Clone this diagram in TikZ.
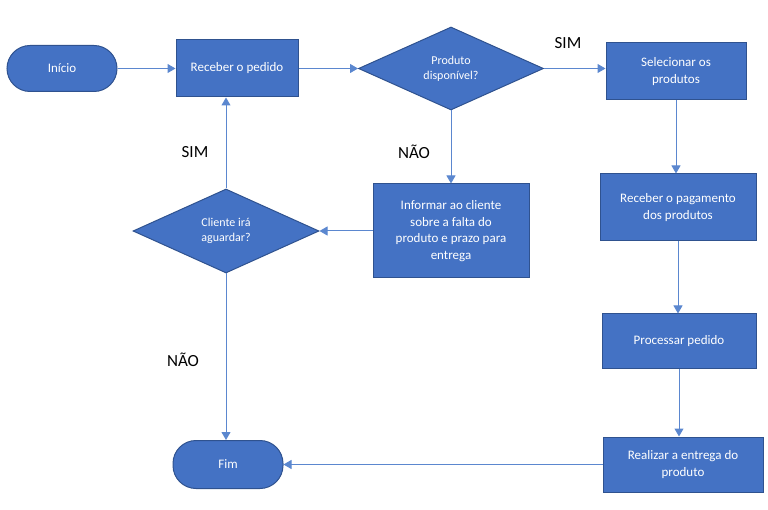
\documentclass[tikz,border=0pt]{standalone}
\usepackage{fontspec}
\setmainfont{Carlito}
\usetikzlibrary{shapes.geometric,arrows.meta}
\definecolor{boxfill}{HTML}{4472C4}
\definecolor{boxline}{HTML}{2F528F}
\definecolor{arrowline}{HTML}{5B87CF}
\begin{document}
\begin{tikzpicture}[x=1pt, y=-1pt,
  proc/.style={draw=boxline, fill=boxfill, line width=1pt, text=white,
    font=\fontsize{13}{16.5}\selectfont, align=center, inner sep=0pt},
  term/.style={proc, rounded corners=23pt},
  decis/.style={proc, diamond, font=\fontsize{12}{15}\selectfont},
  flow/.style={arrowline, line width=1pt, -{Triangle[length=8pt, width=9pt]}},
  answer/.style={font=\fontsize{17}{20}\selectfont}]
  \useasboundingbox (0, 0) rectangle (768, 510);

  % Terminals
  \node[term, minimum width=110pt, minimum height=46pt] (inicio) at (62, 68.5) {Início};
  \node[term, minimum width=110pt, minimum height=48pt] (fim) at (228, 464.5) {Fim};

  % Left column
  \node[proc, minimum width=122pt, minimum height=57pt] (receber) at (237, 68.5) {Receber o pedido};
  \node[decis, minimum width=186pt, minimum height=84pt] (cliente) at (226, 231) {Cliente irá\\aguardar?};

  % Middle column
  \node[decis, minimum width=185pt, minimum height=83pt] (disponivel) at (451, 68.5) {Produto\\disponível?};
  \node[proc, minimum width=156pt, minimum height=94pt] (informar) at (451, 231)
    {Informar ao cliente\\sobre a falta do\\produto e prazo para\\entrega};

  % Right column
  \node[proc, minimum width=140pt, minimum height=57pt] (selecionar) at (676, 71.5) {Selecionar os\\produtos};
  \node[proc, minimum width=156pt, minimum height=67pt] (pagamento) at (678, 207.5) {Receber o pagamento\\dos produtos};
  \node[proc, minimum width=154pt, minimum height=54pt] (processar) at (679, 341) {Processar pedido};
  \node[proc, minimum width=160pt, minimum height=55pt] (entrega) at (683, 464.5) {Realizar a entrega do\\produto};

  % Answer labels
  \node[answer] (sim1) at (568, 43) {SIM};
  \node[answer] (nao1) at (414, 152) {NÃO};
  \node[answer] (sim2) at (195, 152) {SIM};
  \node[answer] (nao2) at (183, 360) {NÃO};

  % Connectors
  \draw[flow] (inicio) -- (receber);
  \draw[flow] (receber) -- (disponivel);
  \draw[flow] (disponivel.east) -- (selecionar.west |- disponivel.east);
  \draw[flow] (disponivel.south) -- (informar.north);
  \draw[flow] (informar.west) -- (cliente.east);
  \draw[flow] (cliente.north) -- (cliente.north |- receber.south);
  \draw[flow] (cliente.south) -- (cliente.south |- fim.north);
  \draw[flow] (selecionar.south) -- (selecionar.south |- pagamento.north);
  \draw[flow] (pagamento.south) -- (pagamento.south |- processar.north);
  \draw[flow] (processar.south) -- (processar.south |- entrega.north);
  \draw[flow] (entrega.west) -- (fim.east);
\end{tikzpicture}
\end{document}
